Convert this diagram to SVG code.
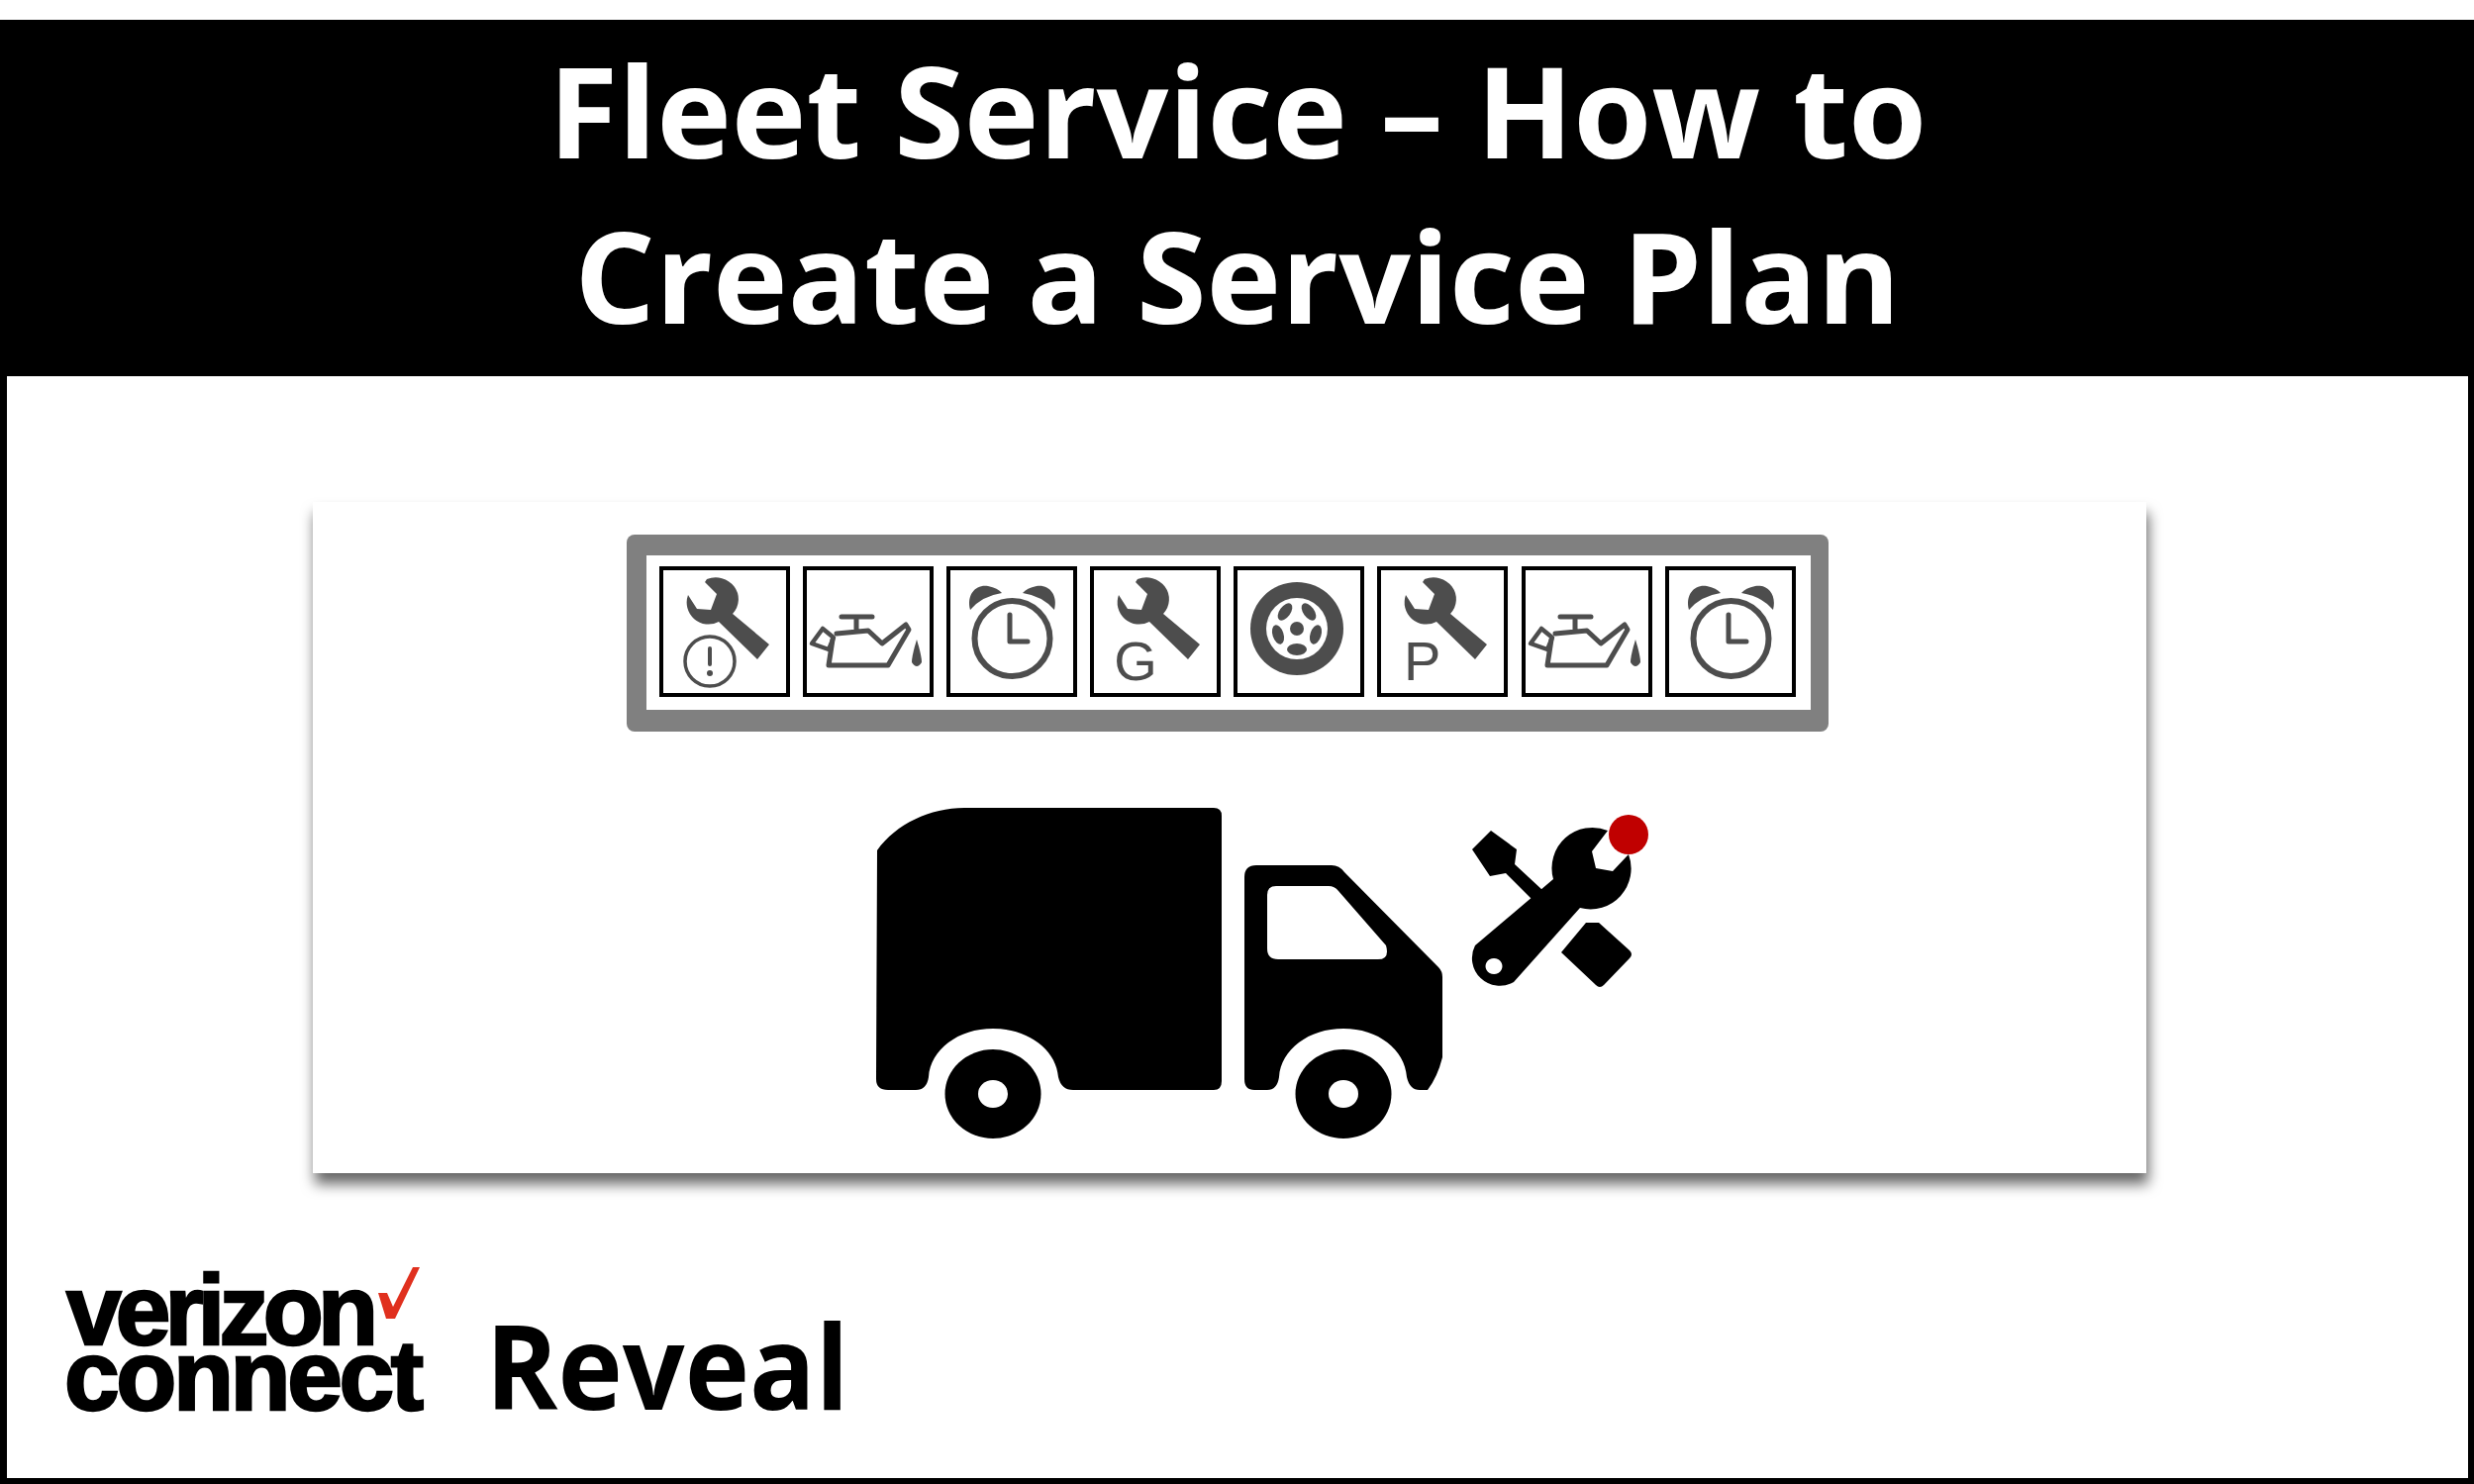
<svg xmlns="http://www.w3.org/2000/svg" width="2499" height="1499" viewBox="0 0 2499 1499">
<style>
.title{font-family:"Open Sans","Liberation Sans",sans-serif;font-weight:700;font-size:128px;fill:#fff;text-anchor:middle}
.box{fill:#fff;stroke:#000;stroke-width:4}
.ic{fill:#4d4d4d}
.icl{fill:none;stroke:#4d4d4d;stroke-linejoin:round;stroke-linecap:round}
.ltr{font-family:"Liberation Sans",Arial,sans-serif;fill:#4d4d4d;font-size:56px}
.logo{font-family:"Liberation Sans",Arial,sans-serif;font-weight:700;font-size:100px;fill:#000;stroke:#000;stroke-width:2.5}
</style>
<defs>
<filter id="sh" x="-5%" y="-8%" width="110%" height="120%"><feDropShadow dx="2" dy="11" stdDeviation="7" flood-color="#000" flood-opacity="0.6"/></filter>
<path id="wrench" class="ic" d="M48,13 A23,22 0 0 1 74,48 L111,79 L99,94 L60,56 A22,22 0 0 1 29,29 L38,43 L52,44 L58,28 L46,16 Z"/>
<g id="oil">
<path class="icl" stroke-width="5" fill="none" d="M39,51 H70 M54,51 V64 M34,68 L66,65 L80,78 L104,59 L107,64 L86,100 H26 L30,74"/>
<path class="icl" stroke-width="4.500" d="M20,63 L9,78 L26,84 L31,72 Z"/>
<path class="ic" d="M115,74 C118,84 120,92 120,97 Q115,105 110,97 C110,92 112,84 115,74 Z"/>
</g>
<g id="clock">
<circle class="icl" stroke-width="6" cx="66.500" cy="73" r="38"/>
<path class="icl" stroke-width="5" d="M64,49 V76 H82"/>
<path class="ic" d="M24,44 C20,28 30,18 42,20 Q52,22 56,27 Q36,30 24,44 Z"/>
<path class="ic" d="M109,44 C113,28 103,18 91,20 Q81,22 77,27 Q97,30 109,44 Z"/>
</g>
</defs>
<rect width="2499" height="1499" fill="#fff"/>
<g id="frame">
<path fill="#000" d="M0,20 H2499 V1499 H0 Z M7,380 V1493 H2493 V380 Z" fill-rule="evenodd"/>
</g>
<g id="title">
<text class="title" x="1250" y="160">Fleet Service – How to</text>
<text class="title" x="1250" y="327">Create a Service Plan</text>
</g>
<rect id="card" x="316" y="507" width="1852" height="678" fill="#fff" filter="url(#sh)"/>
<g id="icon-bar">
<rect x="633" y="540" width="1214" height="199" rx="8" fill="#808080"/>
<rect x="653" y="561" width="1176" height="156" fill="#fff"/>
<g id="icon-1" transform="translate(666,572)"><rect class="box" x="2" y="2" width="128" height="128"/><use href="#wrench"/><circle class="icl" stroke-width="3.500" cx="51" cy="96" r="25"/><path class="icl" stroke-width="4" d="M51,83 V99"/><circle class="ic" cx="51" cy="108" r="3"/></g>
<g id="icon-2" transform="translate(811,572)"><rect class="box" x="2" y="2" width="128" height="128"/><use href="#oil"/></g>
<g id="icon-3" transform="translate(956,572)"><rect class="box" x="2" y="2" width="128" height="128"/><use href="#clock"/></g>
<g id="icon-4" transform="translate(1101,572)"><rect class="box" x="2" y="2" width="128" height="128"/><use href="#wrench"/><text class="ltr" x="46" y="115" text-anchor="middle">G</text></g>
<g id="icon-5" transform="translate(1246,572)"><rect class="box" x="2" y="2" width="128" height="128"/>
<circle class="ic" cx="64" cy="63" r="47"/><circle cx="64" cy="63" r="31" fill="#fff"/><circle class="ic" cx="64" cy="63" r="7"/>
<g id="spokes"><ellipse class="ic" cx="64" cy="84" rx="10" ry="6"/><ellipse class="ic" cx="45" cy="69" rx="5.500" ry="10" transform="rotate(-18 45 69)"/><ellipse class="ic" cx="83" cy="69" rx="5.500" ry="10" transform="rotate(18 83 69)"/><ellipse class="ic" cx="52" cy="46" rx="5.500" ry="10" transform="rotate(36 52 46)"/><ellipse class="ic" cx="76" cy="46" rx="5.500" ry="10" transform="rotate(-36 76 46)"/></g></g>
<g id="icon-6" transform="translate(1391,572)"><rect class="box" x="2" y="2" width="128" height="128"/><use href="#wrench"/><text class="ltr" x="27" y="115">P</text></g>
<g id="icon-7" transform="translate(1537,572)"><rect class="box" x="2" y="2" width="128" height="128"/><use href="#oil"/></g>
<g id="icon-8" transform="translate(1682,572)"><rect class="box" x="2" y="2" width="128" height="128"/><use href="#clock"/></g>
</g>
<g id="truck">
<path fill="#000" d="M886,859 C905,832 940,816 974,816 L1226,816 Q1234,816 1234,824 L1234,1092 Q1234,1101 1226,1101 L1084,1101 Q1072,1101 1069,1088 C1067,1060 1038,1039 1003,1039 C968,1039 940,1060 938,1088 Q936,1101 925,1101 L897,1101 Q885,1101 885,1090 Z"/>
<path fill="#000" fill-rule="evenodd" d="M1257,886 Q1257,874 1269,874 L1345,874 Q1353,874 1358,881 L1453,977 Q1457,981 1457,987 L1457,1068 Q1452,1088 1442,1101 L1434,1101 Q1424,1101 1421,1088 C1419,1060 1392,1039 1357,1039 C1322,1039 1294,1060 1292,1088 Q1290,1101 1280,1101 L1267,1101 Q1257,1101 1257,1090 Z M1289,895 Q1280,895 1280,904 L1280,958 Q1280,969 1291,969 L1392,969 Q1404,969 1400,955 L1352,900 Q1348,895 1342,895 Z"/>
<ellipse cx="1003" cy="1105" rx="48.500" ry="45"/><ellipse cx="1003" cy="1105" rx="15" ry="14" fill="#fff"/>
<ellipse cx="1357" cy="1105" rx="48.500" ry="45"/><ellipse cx="1357" cy="1105" rx="15" ry="14" fill="#fff"/>
</g>
<g id="tools">
<path d="M1506,839 L1532,858 L1530,873 L1558,899 L1547,908 L1521,882 L1505,885 L1487,858 Z"/>
<path fill-rule="evenodd" d="M1624,839 A41,41 0 0 0 1569,888 L1490,955 A28,28 0 0 0 1529,992 L1596,917 A41,41 0 0 0 1645,863 L1629,880 L1612,877 L1608,860 Z M1509,968 a8.500,8 0 1,0 0.01,0 Z"/>
<path d="M1602,932 L1615,932 L1646,960 Q1650,964 1646,968 L1620,995 Q1616,999 1612,995 L1577,962 Z"/>
<circle cx="1645" cy="843" r="20" fill="#C00000"/>
</g>
<g id="logo">
<text class="logo" x="67" y="1358" textLength="315" lengthAdjust="spacing">verizon</text>
<text class="logo" x="65" y="1424" textLength="363" lengthAdjust="spacing">connect</text>
<polygon fill="#E0301E" points="382,1306 391,1306 397,1320 417,1280 424,1280 399,1332 390,1332"/>
</g>
<text id="reveal" x="490.500" y="1424" textLength="367" lengthAdjust="spacingAndGlyphs" font-family="'Open Sans','Liberation Sans',sans-serif" font-weight="700" font-size="118" fill="#000">Reveal</text>
</svg>
